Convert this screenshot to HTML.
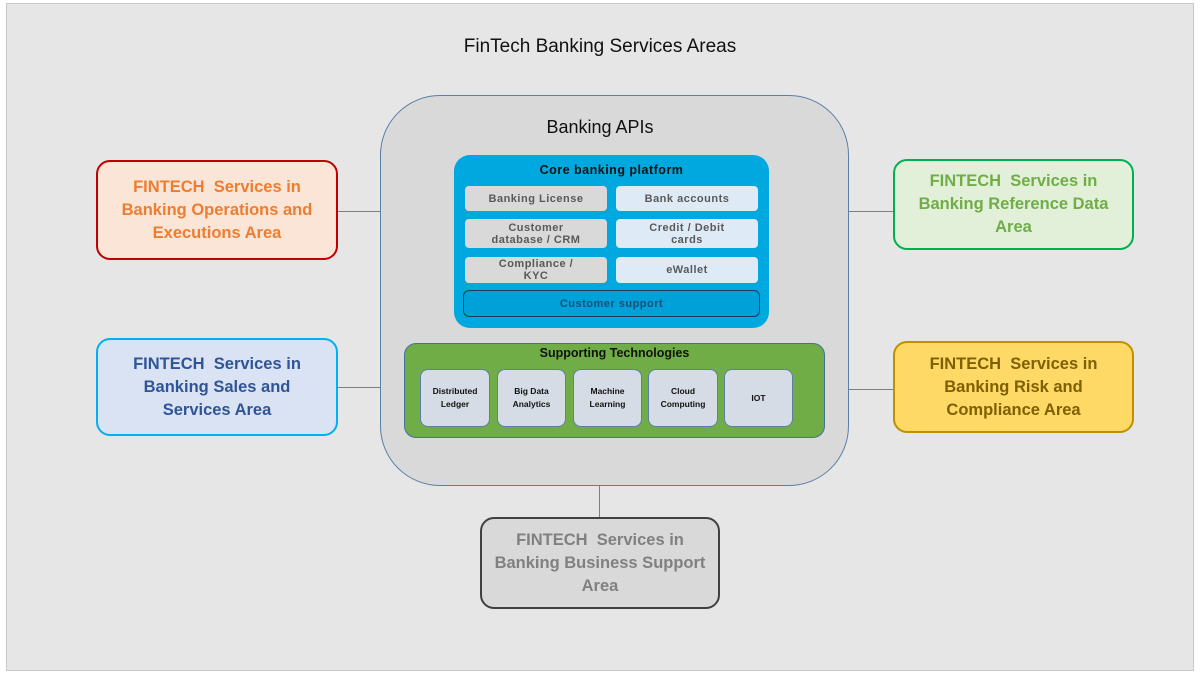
<!DOCTYPE html>
<html><head><style>
body{margin:0;width:1200px;height:674px;background:#fff;font-family:"Liberation Sans",sans-serif;position:relative;overflow:hidden}
div{position:absolute;box-sizing:border-box}
.c{display:flex;align-items:center;justify-content:center;text-align:center}
.side{border-width:2px;border-style:solid;border-radius:14px;font-weight:bold;font-size:16.5px;line-height:23px}
.cell{border-radius:4px;font-size:11px;font-weight:bold;color:#595959;line-height:12px;letter-spacing:.5px}
.t{background:#d6dce5;border:1px solid #5b7fa6;border-radius:8px;font-size:8.5px;font-weight:bold;line-height:13px;color:#111}
.ln{background:#7f7f7f}
</style></head><body>
<div style="left:6px;top:3px;width:1188px;height:668px;background:#e6e6e6;border:1px solid #c8c8c8"></div>
<div class="c" style="left:400px;top:34px;width:400px;height:26px;font-size:19px;color:#111">FinTech Banking Services Areas</div>
<div class="ln" style="left:338px;top:211px;width:42px;height:1px"></div>
<div class="ln" style="left:338px;top:387px;width:42px;height:1px"></div>
<div class="ln" style="left:848px;top:211px;width:45px;height:1px"></div>
<div class="ln" style="left:848px;top:389px;width:45px;height:1px"></div>
<div class="ln" style="left:599px;top:485px;width:1px;height:32px"></div>
<div style="left:380px;top:95px;width:469px;height:391px;background:#d9d9d9;border:1px solid #5b7fa6;border-radius:60px"></div>
<div class="c" style="left:500px;top:115px;width:200px;height:24px;font-size:18px;color:#111">Banking APIs</div>
<div style="left:454px;top:155px;width:315px;height:173px;background:#00a8e0;border-radius:16px"></div>
<div class="c" style="left:454px;top:161px;width:315px;height:18px;font-size:12.5px;font-weight:bold;color:#111;letter-spacing:.5px">Core banking platform</div>
<div class="c cell" style="left:465px;top:186px;width:142px;height:25px;background:#d9d9d9">Banking License</div>
<div class="c cell" style="left:616px;top:186px;width:142px;height:25px;background:#deebf7">Bank accounts</div>
<div class="c cell" style="left:465px;top:219px;width:142px;height:29px;background:#d9d9d9">Customer<br>database / CRM</div>
<div class="c cell" style="left:616px;top:219px;width:142px;height:29px;background:#deebf7">Credit / Debit<br>cards</div>
<div class="c cell" style="left:465px;top:257px;width:142px;height:26px;background:#d9d9d9">Compliance /<br>KYC</div>
<div class="c cell" style="left:616px;top:257px;width:142px;height:26px;background:#deebf7">eWallet</div>
<div class="c cell" style="left:463px;top:290px;width:297px;height:27px;background:#00a0d8;border:1.5px solid #1f3a5a;border-radius:6px;color:#1f4e79">Customer support</div>
<div style="left:404px;top:343px;width:421px;height:95px;background:#70ad47;border:1px solid #41719c;border-radius:12px"></div>
<div class="c" style="left:404px;top:344px;width:421px;height:18px;font-size:12.5px;font-weight:bold;color:#111">Supporting Technologies</div>
<div class="c t" style="left:420px;top:369px;width:70px;height:58px">Distributed<br>Ledger</div>
<div class="c t" style="left:497px;top:369px;width:69px;height:58px">Big Data<br>Analytics</div>
<div class="c t" style="left:573px;top:369px;width:69px;height:58px">Machine<br>Learning</div>
<div class="c t" style="left:648px;top:369px;width:70px;height:58px">Cloud<br>Computing</div>
<div class="c t" style="left:724px;top:369px;width:69px;height:58px">IOT</div>
<div class="c side" style="left:96px;top:160px;width:242px;height:100px;border-color:#c00000;background:#fbe5d6;color:#ed7d31">FINTECH&nbsp; Services in<br>Banking Operations and<br>Executions Area</div>
<div class="c side" style="left:96px;top:338px;width:242px;height:98px;border-color:#00b0f0;background:#dae3f3;color:#2f5597">FINTECH&nbsp; Services in<br>Banking Sales and<br>Services Area</div>
<div class="c side" style="left:893px;top:159px;width:241px;height:91px;border-color:#00b050;background:#e2f0d9;color:#70ad47">FINTECH&nbsp; Services in<br>Banking Reference Data<br>Area</div>
<div class="c side" style="left:893px;top:341px;width:241px;height:92px;border-color:#bf9000;background:#ffd966;color:#7f6000">FINTECH&nbsp; Services in<br>Banking Risk and<br>Compliance Area</div>
<div class="c side" style="left:480px;top:517px;width:240px;height:92px;border-color:#404040;background:#d9d9d9;color:#808080">FINTECH&nbsp; Services in<br>Banking Business Support<br>Area</div>
</body></html>
